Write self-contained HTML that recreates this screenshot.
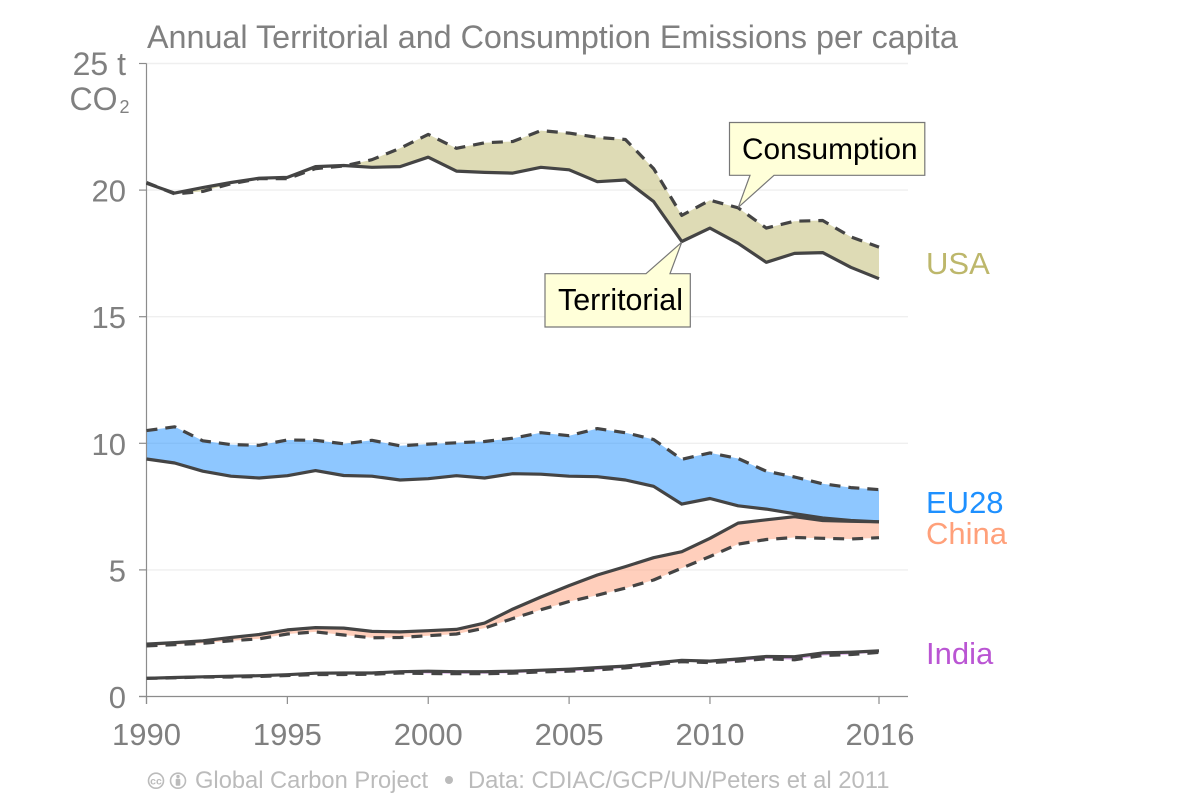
<!DOCTYPE html>
<html>
<head>
<meta charset="utf-8">
<title>Annual Territorial and Consumption Emissions per capita</title>
<style>
html,body{margin:0;padding:0;background:#fff;width:1200px;height:800px;overflow:hidden}
svg{display:block}
text{font-family:"Liberation Sans",sans-serif}
</style>
</head>
<body>
<svg id="chart" xmlns="http://www.w3.org/2000/svg" width="1200" height="800" viewBox="0 0 1200 800">
  <text x="147" y="48" font-size="32.3" fill="#808080">Annual Territorial and Consumption Emissions per capita</text>
  <g id="grid"></g>
  <g id="fills"></g>
  <g id="axes"></g>
  <g id="lines"></g>
  <text x="69.5" y="110" font-size="32" fill="#808080">CO<tspan font-size="18" dx="2" dy="3">2</tspan></text>

  <g>
    <path d="M729.5 122.5H924.8V175.3H774L738.3 207.3L750 175.3H729.5Z" fill="#ffffd9" stroke="#777" stroke-width="1.2"/>
    <text x="742" y="159" font-size="29.8" fill="#000">Consumption</text>
  </g>
  <g>
    <path d="M545 273.7H646L681.7 242.3L670 273.7H690.3V327H545Z" fill="#ffffd9" stroke="#777" stroke-width="1.2"/>
    <text x="558" y="310" font-size="30.4" fill="#000">Territorial</text>
  </g>

  <text x="926" y="274" font-size="31" fill="#bdb76b">USA</text>
  <text x="926" y="513" font-size="31" fill="#1e90ff">EU28</text>
  <text x="926" y="544" font-size="31" fill="#ffa07a">China</text>
  <text x="926" y="664" font-size="31" fill="#ba55d3">India</text>

  <g>
    <circle cx="156" cy="780.7" r="7.5" fill="none" stroke="#bbb" stroke-width="1.6"/>
    <text x="156" y="784.5" font-size="10.5" font-weight="bold" fill="#bbb" text-anchor="middle">cc</text>
  </g>
  <g>
    <circle cx="178" cy="780.7" r="7.5" fill="none" stroke="#bbb" stroke-width="1.6"/>
    <circle cx="178" cy="776.5" r="1.7" fill="#bbb"/>
    <rect x="175.7" y="778.8" width="4.6" height="7" rx="1" fill="#bbb"/>
  </g>
  <text x="195" y="788" font-size="23.7" fill="#bbbbbb">Global Carbon Project</text>
  <circle cx="449" cy="780" r="4" fill="#bbbbbb"/>
  <text x="468" y="788" font-size="23.8" fill="#bbbbbb">Data: CDIAC/GCP/UN/Peters et al 2011</text>
</svg>
<script>
const years = [1990,1991,1992,1993,1994,1995,1996,1997,1998,1999,2000,2001,2002,2003,2004,2005,2006,2007,2008,2009,2010,2011,2012,2013,2014,2015,2016];
const yTicks = [0,5,10,15,20,25];
const yTickLabels = ['0','5','10','15','20','25 t'];
const xTicks = [1990,1995,2000,2005,2010,2016];

const usaTerritorial = [20.27,19.88,20.1,20.3,20.47,20.5,20.93,20.97,20.9,20.93,21.3,20.75,20.7,20.67,20.9,20.8,20.33,20.4,19.55,17.97,18.5,17.9,17.15,17.5,17.53,16.95,16.5];
const usaConsumption = [20.3,19.85,19.95,20.25,20.45,20.45,20.85,20.95,21.2,21.65,22.2,21.65,21.87,21.92,22.35,22.25,22.08,22.0,20.85,19.0,19.6,19.3,18.5,18.77,18.8,18.15,17.75];
const euTerritorial = [9.38,9.22,8.9,8.7,8.63,8.72,8.92,8.73,8.7,8.55,8.6,8.72,8.63,8.8,8.78,8.7,8.68,8.55,8.3,7.6,7.82,7.53,7.4,7.22,7.05,6.95,6.9];
const euConsumption = [10.5,10.65,10.1,9.95,9.92,10.13,10.12,9.98,10.12,9.9,9.97,10.02,10.07,10.2,10.42,10.3,10.58,10.42,10.15,9.37,9.62,9.4,8.9,8.67,8.4,8.25,8.17];
const chinaTerritorial = [2.07,2.13,2.2,2.33,2.45,2.63,2.72,2.7,2.57,2.55,2.6,2.65,2.9,3.45,3.93,4.38,4.8,5.13,5.48,5.72,6.25,6.85,6.98,7.1,6.95,6.92,6.9];
const chinaConsumption = [2.0,2.05,2.1,2.2,2.28,2.47,2.55,2.43,2.32,2.33,2.4,2.47,2.7,3.08,3.43,3.75,4.0,4.28,4.6,5.07,5.53,6.02,6.2,6.28,6.25,6.22,6.27];
const indiaTerritorial = [0.72,0.75,0.78,0.8,0.82,0.86,0.92,0.93,0.93,0.98,1.0,0.98,0.98,1.0,1.04,1.08,1.14,1.2,1.32,1.43,1.4,1.48,1.58,1.57,1.72,1.75,1.8];
const indiaConsumption = [0.72,0.74,0.77,0.77,0.79,0.83,0.87,0.87,0.88,0.93,0.91,0.9,0.9,0.92,0.97,1.0,1.05,1.13,1.24,1.38,1.34,1.4,1.49,1.45,1.62,1.66,1.74];

const NS = 'http://www.w3.org/2000/svg';
function xScale(year){ return 146.5 + (year - 1990) * (879 - 146.5) / 26; }
function yScale(v){ return 696.5 - v * (696.5 - 63.5) / 25; }
function make(tag, attrs, parent){
  const el = document.createElementNS(NS, tag);
  for (const k in attrs) el.setAttribute(k, attrs[k]);
  parent.appendChild(el);
  return el;
}
function pts(vals){ return vals.map((v,i)=>xScale(years[i]).toFixed(1)+','+yScale(v).toFixed(1)); }

const gridG = document.getElementById('grid');
const axesG = document.getElementById('axes');
const fillsG = document.getElementById('fills');
const linesG = document.getElementById('lines');

yTicks.forEach((t,i)=>{
  const y = yScale(t);
  if (t !== 0) {
    const g = make('line',{x1:146.5,x2:908,y1:y,y2:y,stroke:'#efefef','stroke-width':1.4},gridG);
    
    
  }
  const tick = make('line',{x1:139,x2:146.5,y1:y,y2:y,stroke:'#8c8c8c','stroke-width':1.2},axesG);
  
  
  const label = make('text',{x:126,y:y+11.5,'font-size':t === 25 ? 32 : 31,fill:'#808080','text-anchor':'end'},axesG);
  
  
  label.textContent = yTickLabels[i];
});

const yAxis = make('line',{x1:146.5,x2:146.5,y1:yScale(25),y2:704,stroke:'#8c8c8c','stroke-width':1.2},axesG);


const xAxis = make('line',{x1:139,x2:908,y1:yScale(0),y2:yScale(0),stroke:'#8c8c8c','stroke-width':1.2},axesG);



xTicks.forEach(t=>{
  const x = xScale(t);
  const tick = make('line',{x1:x,x2:x,y1:yScale(0),y2:704,stroke:'#8c8c8c','stroke-width':1.2},axesG);
  
  
  const label = make('text',{x:x + (t === 2016 ? 1 : 0),y:745,'font-size':31,fill:'#808080','text-anchor':'middle'},axesG);
  
  
  label.textContent = t;
});

function drawSeries(key, terr, cons, color){
  const area = make('polygon',{points:pts(terr).concat(pts(cons).reverse()).join(' '),fill:color,'fill-opacity':0.5,stroke:'none'},fillsG);
  
  
  const c = make('polyline',{points:pts(cons).join(' '),fill:'none',stroke:'#444','stroke-width':3.2,'stroke-dasharray':'11 8','stroke-linejoin':'round'},linesG);
  
  
  const t = make('polyline',{points:pts(terr).join(' '),fill:'none',stroke:'#444','stroke-width':3.2,'stroke-linejoin':'round'},linesG);
  
  
}
drawSeries('usa', usaTerritorial, usaConsumption, '#bdb76b');
drawSeries('eu28', euTerritorial, euConsumption, '#1e90ff');
drawSeries('china', chinaTerritorial, chinaConsumption, '#ffa07a');
drawSeries('india', indiaTerritorial, indiaConsumption, '#ba55d3');
</script>
</body>
</html>
